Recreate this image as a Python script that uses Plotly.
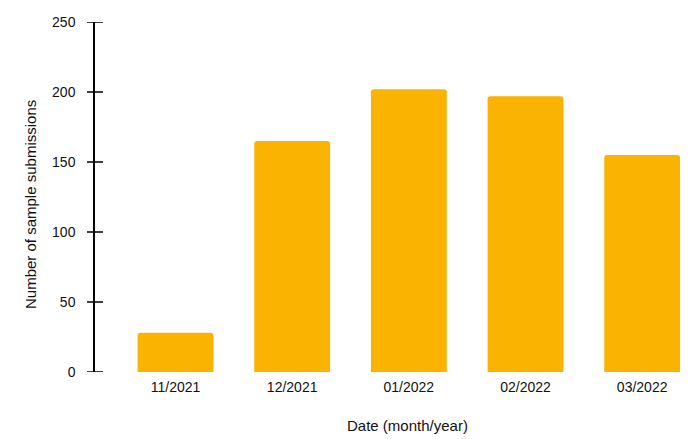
import plotly.graph_objects as go

# --- Data ---
months = ["11/2021", "12/2021", "01/2022", "02/2022", "03/2022"]
submissions = [28, 165, 202, 197, 155]
y_ticks = [0, 50, 100, 150, 200, 250]

bar_color = "#F9B300"
text_color = "#111111"
font_family = "Liberation Sans, Arial, sans-serif"

W, H = 692, 439
margin = dict(l=95, r=2, t=22, b=67)
plot_w = W - margin["l"] - margin["r"]
plot_h = H - margin["t"] - margin["b"]
tick_len = 8  # px, each side of the axis line

fig = go.Figure()

fig.add_trace(go.Bar(
    x=months,
    y=submissions,
    marker=dict(color=bar_color, cornerradius=3, line=dict(width=0)),
    width=0.65,
    hoverinfo="x+y",
))

# y ticks that cross the axis line (plotly only draws them on one side)
half = tick_len / plot_w
for t in y_ticks:
    fig.add_shape(type="line", xref="paper", yref="y",
                  x0=-half, x1=half, y0=t, y1=t,
                  line=dict(color="black", width=1.5), layer="above")

# axis titles as annotations, the original centres them a bit off the plot middle
fig.add_annotation(text="Date (month/year)", xref="paper", yref="paper",
                   x=(407 - margin["l"]) / plot_w, y=-53 / plot_h,
                   xanchor="center", yanchor="middle", showarrow=False,
                   font=dict(size=15, color=text_color))
fig.add_annotation(text="Number of sample submissions", xref="paper", yref="paper",
                   x=(30 - margin["l"]) / plot_w, y=(H - margin["b"] - 205) / plot_h,
                   xanchor="center", yanchor="middle", textangle=-90, showarrow=False,
                   font=dict(size=15, color=text_color))

fig.update_layout(
    width=W,
    height=H,
    margin=margin,
    plot_bgcolor="white",
    paper_bgcolor="white",
    font=dict(family=font_family, size=14, color=text_color),
    showlegend=False,
    xaxis=dict(
        range=[-0.69, 4.41],
        showline=False,
        showgrid=False,
        ticks="",
        ticklabelstandoff=5,
        automargin=False,
        tickfont=dict(size=14),
    ),
    yaxis=dict(
        range=[0, 250],
        tickvals=y_ticks,
        showline=True,
        linecolor="black",
        linewidth=1.5,
        showgrid=False,
        zeroline=False,
        ticks="",
        ticklabelstandoff=15,
        automargin=False,
        tickfont=dict(size=14),
    ),
)

# drop the page's default body margin so the figure sits at 0,0
fig.write_html("out.html", post_script="document.body.style.margin='0';",
               config={"displayModeBar": False})
